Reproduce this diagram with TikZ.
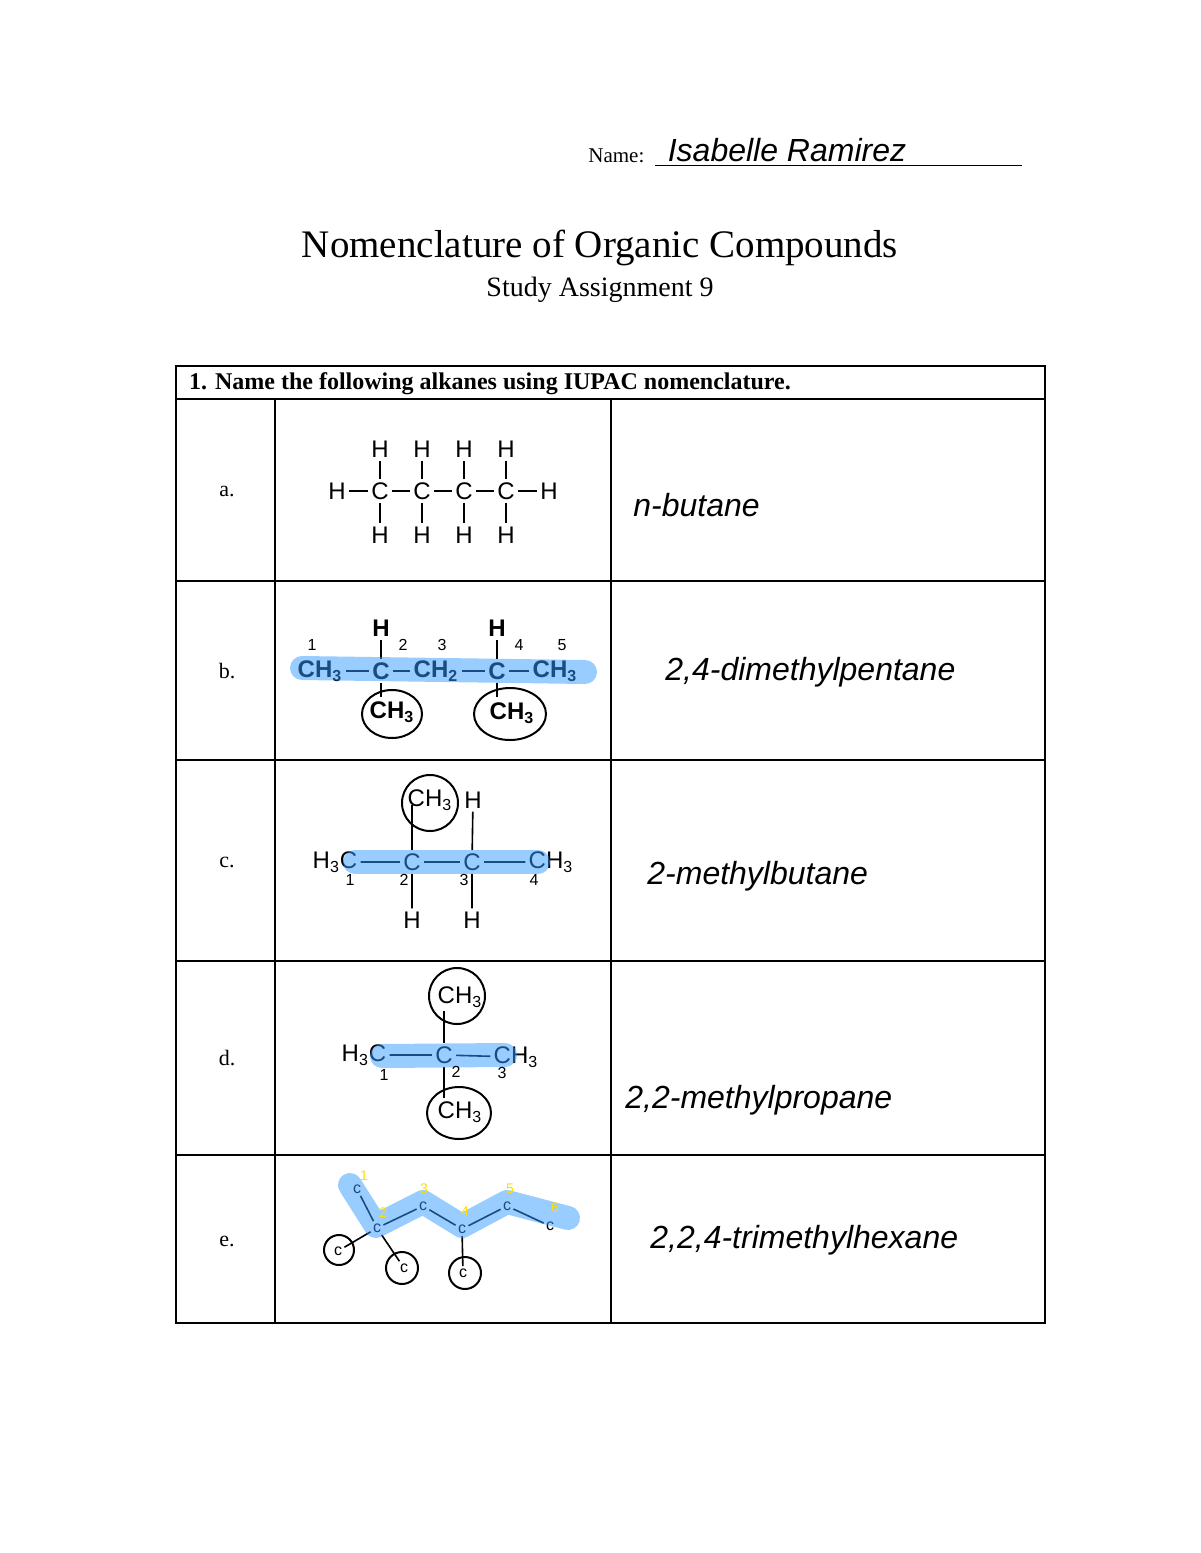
\documentclass[tikz,border=0pt]{standalone}
\usepackage{fontspec}
\setmainfont{Liberation Serif}
\newfontfamily\chemf{Liberation Sans}
\newfontfamily\handf{Liberation Sans}
\begin{document}
\begin{tikzpicture}[x=0.5pt,y=-0.5pt,
 ch/.style={font=\chemf\fontsize{12}{12}\selectfont,inner sep=1.5pt},
 chb/.style={font=\chemf\bfseries\fontsize{12}{12}\selectfont,inner sep=1.5pt},
 hw/.style={font=\handf\itshape\fontsize{16}{16}\selectfont,inner sep=0pt,anchor=west},
 num/.style={font=\handf\fontsize{8}{8}\selectfont,inner sep=0pt},
 ynum/.style={font=\handf\fontsize{7}{7}\selectfont,text=yellow!80!orange,inner sep=0pt},
 cc/.style={font=\handf\fontsize{8}{8}\selectfont,inner sep=1pt},
 hl/.style={line width=12pt,color=blue!50!cyan!80,opacity=0.5,line cap=round,line join=round},
 ring/.style={line width=1pt},
 bond/.style={line width=0.8pt},
 grid/.style={line width=1.2pt}]
\useasboundingbox (0,0) rectangle (1200,1553);
% header
\node[font=\fontsize{10.5}{10.5}\selectfont,anchor=base west,inner sep=0pt] (nm) at (588,162) {Name:};
\draw (655,165) -- (1022,165);
\node[font=\handf\itshape\fontsize{16}{16}\selectfont] (isa) at (787,150) {Isabelle Ramirez};
\node[font=\fontsize{19.5}{19.5}\selectfont] (ti) at (600,248) {Nomenclature of Organic Compounds};
\node[font=\fontsize{14}{14}\selectfont] (st) at (600,290) {Study Assignment 9};
% table
\draw[grid] (176,366) rectangle (1045,1323);
\foreach \y in {399,581,760,961,1155} \draw[grid] (176,\y) -- (1045,\y);
\draw[grid] (275,399) -- (275,1323);
\draw[grid] (611,399) -- (611,1323);
\node[font=\bfseries\fontsize{12}{12}\selectfont,anchor=west] (hd) at (182,384) {1. Name the following alkanes using IUPAC nomenclature.};
\foreach \t/\y in {a./491,b./671,c./862,d./1058,e./1241}
 \node[font=\fontsize{11}{11}\selectfont] at (227,\y) {\t};
% ---------- row a
\foreach \x [count=\i] in {380,422,464,506}{
 \node[ch] (ca\i) at (\x,491) {C};
 \node[ch] (ht\i) at (\x,449) {H};
 \node[ch] (hb\i) at (\x,535) {H};
 \draw[bond] (ca\i) -- (ht\i);
 \draw[bond] (ca\i) -- (hb\i);
}
\node[ch] (hl) at (337,491) {H};
\node[ch] (hr) at (549,491) {H};
\draw[bond] (hl)--(ca1) (ca1)--(ca2) (ca2)--(ca3) (ca3)--(ca4) (ca4)--(hr);
\node[hw] (ansa) at (633,505) {n-butane};
% ---------- row b
\node[chb] (b1) at (320,671) {CH\textsubscript{3}};
\node[chb] (b2) at (381,671) {C};
\node[chb] (b3) at (436,671) {CH\textsubscript{2}};
\node[chb] (b4) at (497,671) {C};
\node[chb] (b5) at (555,671) {CH\textsubscript{3}};
\node[chb] (bh2) at (381,628) {H};
\node[chb] (bh4) at (497,628) {H};
\node[chb] (bm2) at (392,712) {CH\textsubscript{3}};
\node[chb] (bm4) at (512,713) {CH\textsubscript{3}};
\draw[bond] (b1)--(b2) (b2)--(b3) (b3)--(b4) (b4)--(b5) (b2)--(bh2) (b4)--(bh4);
\draw[bond] (b2.south) -- ++(0,14) (b4.south) -- ++(0,14);
\draw[hl] (302,668) -- (585,672);
\draw[ring] (392,714) ellipse[x radius=15pt,y radius=12pt];
\draw[ring] (510,714) ellipse[x radius=18pt,y radius=13pt];
\foreach \t/\x in {1/312,2/403,3/442,4/519,5/562}
 \node[num] at (\x,645) {\t};
\node[hw] (ansb) at (665,672) {2,4-dimethylpentane};
% ---------- row c
\node[ch] (c1) at (335,862) {H\textsubscript{3}C};
\node[ch] (c2) at (412,862) {C};
\node[ch] (c3) at (472,862) {C};
\node[ch] (c4) at (551,862) {CH\textsubscript{3}};
\node[ch] (cm) at (430,800) {CH\textsubscript{3}};
\node[ch] (ch3) at (473,800) {H};
\node[ch] (cb2) at (412,920) {H};
\node[ch] (cb3) at (472,920) {H};
\draw[bond] (c1)--(c2) (c2)--(c3) (c3)--(c4) (c3)--(ch3) (c2)--(cb2) (c3)--(cb3);
\draw[bond] (c2) -- (412,805);
\draw[hl] (355,862) -- (538,862);
\draw[ring] (430,803) circle[radius=14pt];
\foreach \t/\x in {1/350,2/404,3/464,4/534}
 \node[num] at (\x,880) {\t};
\node[hw] (ansc) at (647,876) {2-methylbutane};
% ---------- row d
\node[ch] (d1) at (364,1055) {H\textsubscript{3}C};
\node[ch] (d2) at (444,1055) {C};
\node[ch] (d3) at (516,1057) {CH\textsubscript{3}};
\node[ch] (dt) at (460,997) {CH\textsubscript{3}};
\node[ch] (db) at (460,1112) {CH\textsubscript{3}};
\draw[bond] (d1)--(d2) (d2)--(d3);
\draw[bond] (d2) -- (d2 |- dt.south);
\draw[bond] (d2) -- (d2 |- db.north);
\draw[hl] (382,1056) -- (505,1055);
\draw[ring] (457,996) circle[radius=14pt];
\draw[ring] (459,1113) ellipse[x radius=16pt,y radius=13pt];
\foreach \t/\x/\y in {1/384/1075,2/456/1072,3/502/1073}
 \node[num] at (\x,\y) {\t};
\node[hw] (ansd) at (625,1100) {2,2-methylpropane};
% ---------- row e
\node[cc] (e1) at (357,1189) {c};
\node[cc] (e2) at (377,1228) {c};
\node[cc] (e3) at (423,1206) {c};
\node[cc] (e4) at (462,1229) {c};
\node[cc] (e5) at (507,1206) {c};
\node[cc] (e6) at (550,1226) {c};
\node[cc] (ea) at (338,1251) {c};
\node[cc] (eb) at (404,1268) {c};
\node[cc] (ec) at (463,1273) {c};
\draw[bond] (e1)--(e2) (e2)--(e3) (e3)--(e4) (e4)--(e5) (e5)--(e6) (e2)--(ea) (e2)--(eb) (e4)--(ec);
\draw[hl] (350,1185) -- (376,1226) -- (423,1202) -- (462,1226) -- (507,1202) -- (568,1218);
\draw[ring] (339,1250) circle[radius=7.5pt];
\draw[ring] (402,1268) circle[radius=8pt];
\draw[ring] (465,1273) circle[radius=8pt];
\foreach \t/\x/\y in {1/364/1176,2/383/1213,3/424/1189,4/465/1212,5/510/1189,6/555/1208}
 \node[ynum] at (\x,\y) {\t};
\node[hw] (anse) at (650,1240) {2,2,4-trimethylhexane};
\end{tikzpicture}
\end{document}
